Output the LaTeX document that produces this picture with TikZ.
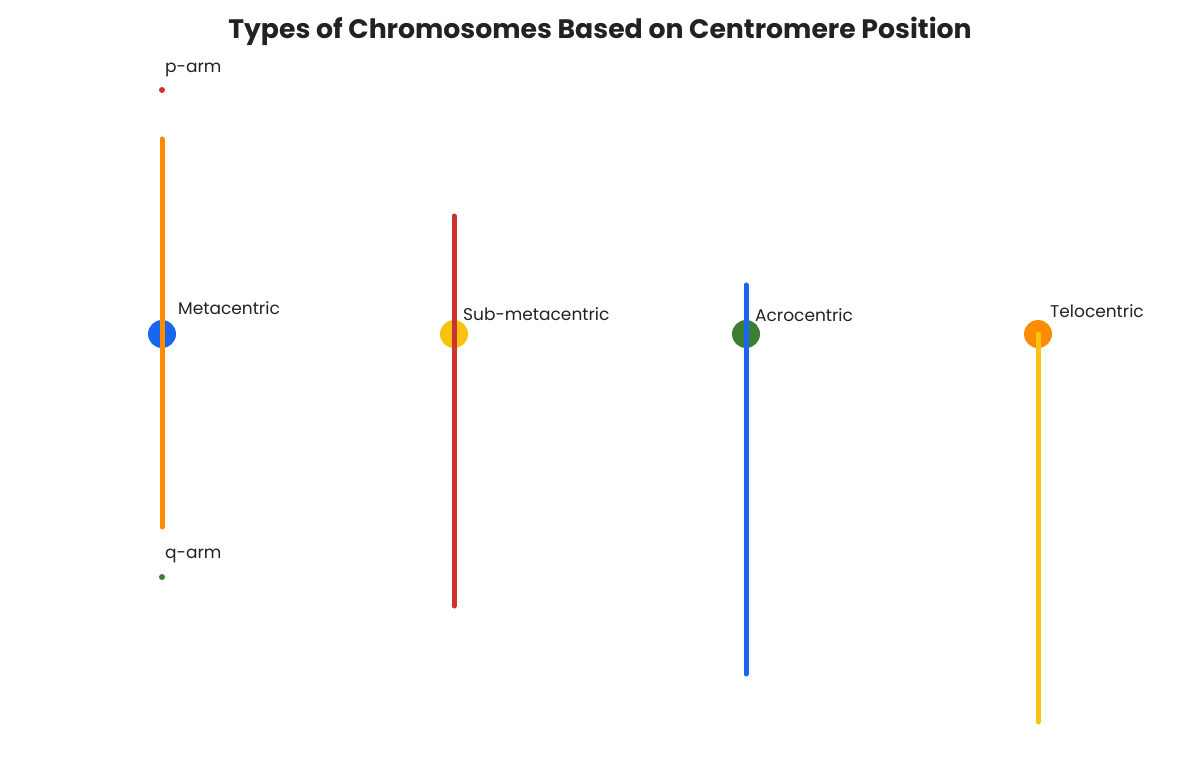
\documentclass[tikz,border=0pt]{standalone}
\usepackage{fontspec}
\setmainfont{Poppins}
\definecolor{cOrange}{HTML}{FF8C00}
\definecolor{cBlue}{HTML}{1A66EE}
\definecolor{cRed}{HTML}{CC3333}
\definecolor{cYellow}{HTML}{F7C30F}
\definecolor{cGreen}{HTML}{3E7E30}
\definecolor{cText}{HTML}{222222}
\tikzset{
  arm/.style={line width=5pt, line cap=round},
  centro/.style={circle, inner sep=0pt, minimum size=28pt},
  tiny/.style={circle, inner sep=0pt, minimum size=6pt},
  lbl/.style={anchor=base west, text=cText, font=\fontsize{17}{20}\selectfont, inner sep=0pt},
  ttl/.style={text=cText, font=\fontsize{26.7}{30}\selectfont\bfseries, inner sep=0pt},
}
\begin{document}
\begin{tikzpicture}[x=1pt,y=-1pt]
\useasboundingbox (0,0) rectangle (1200,772);
\node[ttl] (title) at (600,31) {Types of Chromosomes Based on Centromere Position};
% centromeres
\node[centro, fill=cBlue] (c1) at (162,334) {};
\node[centro, fill=cYellow] (c2) at (454,334) {};
\node[centro, fill=cGreen] (c3) at (746,334) {};
\node[centro, fill=cOrange] (c4) at (1038,334) {};
% arm ends
\coordinate (t1) at (162,139); \coordinate (b1) at (162,527);
\coordinate (t2) at (454,216); \coordinate (b2) at (454,606);
\coordinate (t3) at (746,285); \coordinate (b3) at (746,674);
\coordinate (b4) at (1038,722);
\draw[arm, cOrange] (t1) -- (b1);
\draw[arm, cRed] (t2) -- (b2);
\draw[arm, cBlue] (t3) -- (b3);
\draw[arm, cYellow] (c4.center) -- (b4);
% labels
\node[lbl] (l1) at (178,314) {Metacentric};
\node[lbl] (l2) at (463,320) {Sub-metacentric};
\node[lbl] (l3) at (755,321) {Acrocentric};
\node[lbl] (l4) at (1050,317) {Telocentric};
% p and q arm legend
\node[tiny, fill=cRed] (pdot) at (162,90) {};
\node[tiny, fill=cGreen] (qdot) at (162,577) {};
\node[lbl] (pl) at (165,72) {p-arm};
\node[lbl] (ql) at (165,558) {q-arm};
\end{tikzpicture}
\end{document}
